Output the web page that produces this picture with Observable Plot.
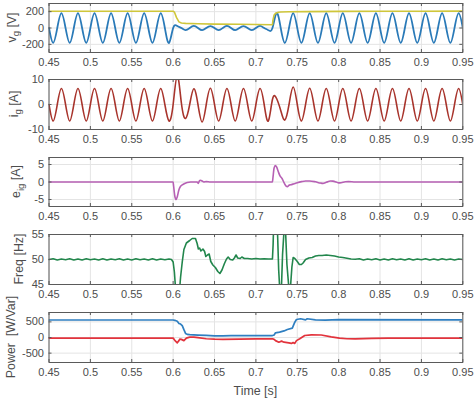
<!DOCTYPE html>
<html><head><meta charset="utf-8">
<script src="https://cdn.jsdelivr.net/npm/d3@7"></script>
<script src="https://cdn.jsdelivr.net/npm/@observablehq/plot@0.6"></script>
<style>
html,body{margin:0;padding:0;background:#fff;}
#chart{position:relative;width:474px;height:399px;overflow:hidden;font-family:"Liberation Sans",Arial,sans-serif;}
#chart svg{position:absolute;left:0;}
</style></head><body><div id="chart"></div>
<script>
// ---- shared x axis ----
const xTicks = [0.45,0.5,0.55,0.6,0.65,0.7,0.75,0.8,0.85,0.9,0.95];
const xTickLabels = ["0.45","0.5","0.55","0.6","0.65","0.7","0.75","0.8","0.85","0.9","0.95"];
const T0 = 0.45, DT = 0.005; // sample grid for the sinusoidal series

// ---- panel 1: grid voltage ----
const vgValues = [0,-182,0,181, 0,-183,0,182, 0,-182,0,181, 0,-183,0,182, 0,-182,0,181, 0,-183,0,182, 0,-182,0,181, 0,-183,
  0, 24,0,-26,0, 25,0,-27,0, 24,0,-26,0, 25,0,-27,0, 24,0,-26,0, 25,0,-27, 0,
  182,0,-183,0, 181,0,-182,0, 182,0,-183,0, 181,0,-182,0, 182,0,-183,0, 181,0,-182,0, 182,0,-183,0, 181,0,-182,0, 182,0,-183,0, 181,0,-182,0, 182,0,-183,0, 181,0];
const vgAmpT = [0.45,0.5,0.55,0.6,0.6015,0.604,0.607,0.61,0.615,0.63,0.65,0.68,0.7,0.72,0.7205,0.722,0.724,0.727,0.73,0.74,0.76,0.8,0.85,0.9,0.95];
const vgAmpV = [206,205,206,206,195,130,75,62,57,52,48,45,42,40,90,160,182,192,196,199,201,203,206,206,207];
const vgTicks = [-200,0,200], vgTickLabels = ["-200","0","200"];

// ---- panel 2: grid current ----
const igValues = [0,-6.6,0,6.4, 0,-6.6,0,6.4, 0,-6.6,0,6.4, 0,-6.6,0,6.4, 0,-6.6,0,6.4, 0,-6.6,0,6.4, 0,-6.6,0,6.4, 0,-6.6,
  0, 11.5, 0.5,-5.6, 0, 6.3, 0,-7.0, 0, 6.5, 0,-6.6, 0, 6.4, 0,-6.6, 0, 6.4, 0,-6.6, 0, 6.4, 0,-6.6,
  2.0, 2.4,-2.4,-6.2, 0, 7.0, 0,-6.6, 0, 6.5, 0,-6.6, 0, 6.4, 0,-6.6, 0, 6.4, 0,-6.6, 0, 6.4, 0,-6.6, 0, 6.4, 0,-6.6, 0, 6.4, 0,-6.6, 0, 6.4, 0,-6.6, 0, 6.4, 0,-6.6, 0, 6.4, 0,-6.6, 0, 6.4, 0];
const igTicks = [-10,0,10], igTickLabels = ["-10","0","10"];

// ---- panel 3: current error ----
const eigT = [0.45,0.6,0.6005,0.602,0.6035,0.605,0.607,0.609,0.611,0.614,0.617,0.621,0.629,0.6303,0.6315,0.633,0.635,0.637,0.64,0.645,0.72,0.7205,0.722,0.7235,0.725,0.727,0.729,0.7316,0.734,0.7365,0.738,0.74,0.742,0.746,0.75,0.755,0.76,0.765,0.772,0.778,0.781,0.785,0.79,0.793,0.797,0.8,0.803,0.808,0.812,0.82,0.95];
const eigV = [0,0,-1,-4,-5,-4.2,-2.2,-1.2,-0.8,-0.4,-0.15,0,0,-0.4,0.2,0.5,0.3,0,0.1,0,0,1,4,4.7,4.3,3,1.8,1,-0.2,-1.2,-1.35,-0.9,-0.8,-0.5,-0.2,0.1,0.3,0.3,0.05,-0.3,-0.4,-0.1,0.3,0.25,0,-0.25,-0.2,0.05,0.1,0,0];
const eigTicks = [-5,0,5], eigTickLabels = ["-5","0","5"];

// ---- panel 4: frequency ----
const freqT = [0.45,0.455,0.46,0.465,0.47,0.475,0.48,0.485,0.49,0.495,0.5,0.505,0.51,0.515,0.52,0.525,0.53,0.535,0.54,0.545,0.55,0.555,0.56,0.565,0.57,0.575,0.58,0.585,0.59,0.595,
  0.598,0.6,0.6015,0.603,0.6055,0.6078,0.609,0.611,0.613,0.616,0.62,0.623,0.627,0.629,0.6305,0.632,0.6335,0.636,0.638,0.6395,0.6415,0.6435,0.6455,0.648,0.651,0.654,0.6565,0.659,0.662,0.6645,0.6665,0.669,0.672,0.674,0.676,0.678,0.681,0.683,0.686,0.69,0.695,0.7,0.705,0.71,0.715,0.72,
  0.7208,0.7213,0.7225,0.725,0.7262,0.7275,0.7285,0.7297,0.731,0.7322,0.7337,0.7348,0.736,0.7375,0.7395,0.741,0.742,0.7435,0.745,0.747,0.75,0.7525,0.755,0.757,0.76,0.764,0.768,0.772,0.776,0.78,0.785,0.79,0.795,0.8,0.805,0.81,0.815,0.82,
  0.825,0.83,0.835,0.84,0.845,0.85,0.855,0.86,0.865,0.87,0.875,0.88,0.885,0.89,0.895,0.9,0.905,0.91,0.915,0.92,0.925,0.93,0.935,0.94,0.945,0.95];
const freqV = [50.0,50.15,49.9,50.1,49.95,50.15,49.9,50.1,49.9,50.15,49.95,50.1,49.9,50.15,49.9,50.1,49.95,50.15,49.9,50.1,49.9,50.15,49.95,50.1,49.9,50.15,49.9,50.1,49.95,50.1,
  50.0,49.5,47.5,44,40,44,46.5,49.5,52,53.3,53.8,54.2,54.2,53.2,52.1,52.3,51.7,52.1,51.6,50.6,50.9,51.1,49.6,48.9,48.4,47.6,47.2,47.9,49.2,50.1,50.5,50.0,49.9,50.3,50.9,50.3,50.2,50.5,50.2,50.2,50.1,50.2,50.1,50.15,50.1,50.1,
  53,56,60,59,55,48,45,41,45,51,55,59,55,49,45,41,45,48.5,50.4,50.2,49.6,49.0,49.0,49.3,50.0,50.3,50.4,50.7,50.8,50.8,50.9,50.8,50.7,50.5,50.4,50.25,50.1,50.05,
  50.15,49.9,50.1,49.95,50.15,49.9,50.1,49.9,50.15,49.95,50.1,49.9,50.15,49.9,50.1,49.95,50.15,49.9,50.1,49.9,50.15,49.95,50.1,49.9,50.1,50.0];
const freqTicks = [45,50,55], freqTickLabels = ["45","50","55"];

// ---- panel 5: active / reactive power ----
const pT = [0.45,0.6,0.602,0.605,0.607,0.609,0.611,0.613,0.615,0.617,0.62,0.63,0.64,0.65,0.66,0.67,0.7,0.72,0.722,0.7237,0.7286,0.734,0.738,0.744,0.747,0.749,0.754,0.76,0.762,0.772,0.784,0.8,0.95];
const pV = [560,560,550,520,450,430,380,250,130,100,90,75,65,55,55,58,62,62,80,150,170,210,256,300,490,576,600,565,600,565,555,572,562];
const qT = [0.45,0.6,0.602,0.605,0.607,0.608,0.61,0.613,0.616,0.62,0.625,0.63,0.64,0.65,0.66,0.68,0.7,0.72,0.722,0.7237,0.7277,0.731,0.734,0.7398,0.743,0.745,0.747,0.749,0.753,0.759,0.767,0.779,0.791,0.801,0.81,0.82,0.83,0.84,0.86,0.95];
const qV = [-20,-20,-90,-170,-100,-50,-60,-100,-20,10,10,-5,-40,-55,-60,-50,-45,-40,-60,-100,-150,-117,-150,-170,-190,-160,-190,-100,-40,64,85,80,20,-20,-40,-45,-35,-25,-20,-20];
const powTicks = [-500,0,500], powTickLabels = ["-500","0","500"];

// ---- layout / style ----
const W = 474, ML = 48.5, MR = 11.7, MT = 2, MB = 26;
const TXT = "#4d4d4d", BOX = "#5a5a5a", GRID = "#e4e4e4";
const FONT = "Liberation Sans, Arial, sans-serif";
const rows = (ts, vs) => vs.map((v, i) => ({t: ts[i], v}));
const grid = vs => vs.map((v, i) => ({t: T0 + DT * i, v}));
const lab = (ticks, labels) => { const m = new Map(ticks.map((d, i) => [d, labels[i]])); return d => m.get(d); };

const panels = [
  {top: 2.7, h: 49, domain: [-300, 300], ticks: vgTicks, labels: vgTickLabels, lx: 15.5,
   label: [["v", 0], ["g", 1], [" [V]", 0]],
   marks: [Plot.line(grid(vgValues), {x: "t", y: "v", stroke: "#2a7ab8", strokeWidth: 1.8, curve: "natural", clip: true}),
           Plot.line(rows(vgAmpT, vgAmpV), {x: "t", y: "v", stroke: "#cfc63a", strokeWidth: 1.6, clip: true})]},
  {top: 79, h: 50, domain: [-10, 10], ticks: igTicks, labels: igTickLabels, lx: 17.5,
   label: [["i", 0], ["g", 1], [" [A]", 0]],
   marks: [Plot.line(grid(igValues), {x: "t", y: "v", stroke: "#a8342c", strokeWidth: 1.6, curve: "natural", clip: true})]},
  {top: 157.2, h: 49, domain: [-7, 7], ticks: eigTicks, labels: eigTickLabels, lx: 20,
   label: [["e", 0], ["ig", 1], [" [A]", 0]],
   marks: [Plot.line(rows(eigT, eigV), {x: "t", y: "v", stroke: "#b660b4", strokeWidth: 1.6, curve: "monotone-x", clip: true})]},
  {top: 234, h: 50, domain: [45, 55], ticks: freqTicks, labels: freqTickLabels, lx: 22.5,
   label: [["Freq [Hz]", 0]],
   marks: [Plot.line(rows(freqT, freqV), {x: "t", y: "v", stroke: "#22864c", strokeWidth: 1.6, clip: true})]},
  {top: 311.7, h: 50, domain: [-800, 800], ticks: powTicks, labels: powTickLabels, lx: 14.5,
   label: [["Power  [W/Var]", 0]],
   marks: [Plot.line(rows(pT, pV), {x: "t", y: "v", stroke: "#2f7fc1", strokeWidth: 1.7, clip: true}),
           Plot.line(rows(qT, qV), {x: "t", y: "v", stroke: "#e2333c", strokeWidth: 1.7, clip: true})]}
];

const chart = document.getElementById("chart");
panels.forEach((p, idx) => {
  const last = idx === panels.length - 1;
  const mb = last ? 40 : MB;
  const svg = Plot.plot({
    width: W, height: p.h + MT + mb,
    marginTop: MT, marginBottom: mb, marginLeft: ML, marginRight: MR,
    x: {domain: [0.45, 0.95]},
    y: {domain: p.domain},
    style: {background: "transparent", color: TXT, fontSize: "11px", fontFamily: FONT, overflow: "visible"},
    marks: [
      Plot.gridX(xTicks, {stroke: GRID, strokeOpacity: 1}),
      Plot.gridY(p.ticks, {stroke: GRID, strokeOpacity: 1}),
      ...p.marks,
      Plot.tickX(xTicks, {x: d => d, stroke: BOX, insetBottom: p.h - 3}),
      Plot.tickX(xTicks, {x: d => d, stroke: BOX, insetTop: p.h - 3}),
      Plot.tickY(p.ticks, {y: d => d, stroke: BOX, insetRight: W - ML - MR - 3}),
      Plot.tickY(p.ticks, {y: d => d, stroke: BOX, insetLeft: W - ML - MR - 3}),
      Plot.frame({stroke: BOX}),
      Plot.axisX(xTicks, {tickSize: 0, tickPadding: 6, tickFormat: lab(xTicks, xTickLabels), label: null, fontSize: 11}),
      Plot.axisY(p.ticks, {tickSize: 0, tickPadding: 5, tickFormat: lab(p.ticks, p.labels), label: null, fontSize: 11})
    ]
  });
  svg.style.top = (p.top - MT) + "px";
  const s = d3.select(svg);
  const cy = MT + p.h / 2;
  const t = s.append("text")
    .attr("transform", `translate(${p.lx},${cy}) rotate(-90)`)
    .attr("text-anchor", "middle")
    .attr("fill", TXT).attr("font-size", 12.4).attr("font-family", FONT);
  let shifted = false;
  p.label.forEach(([str, sub]) => {
    const ts = t.append("tspan").text(str).attr("xml:space", "preserve");
    if (sub) { ts.attr("dy", 3.5).attr("font-size", 9.5); shifted = true; }
    else if (shifted) { ts.attr("dy", -3.5); shifted = false; }
  });
  if (last) {
    s.append("text")
      .attr("x", (ML + W - MR) / 2).attr("y", MT + p.h + 33)
      .attr("text-anchor", "middle")
      .attr("fill", TXT).attr("font-size", 12.4).attr("font-family", FONT)
      .text("Time [s]");
  }
  chart.appendChild(svg);
});
</script></body></html>
